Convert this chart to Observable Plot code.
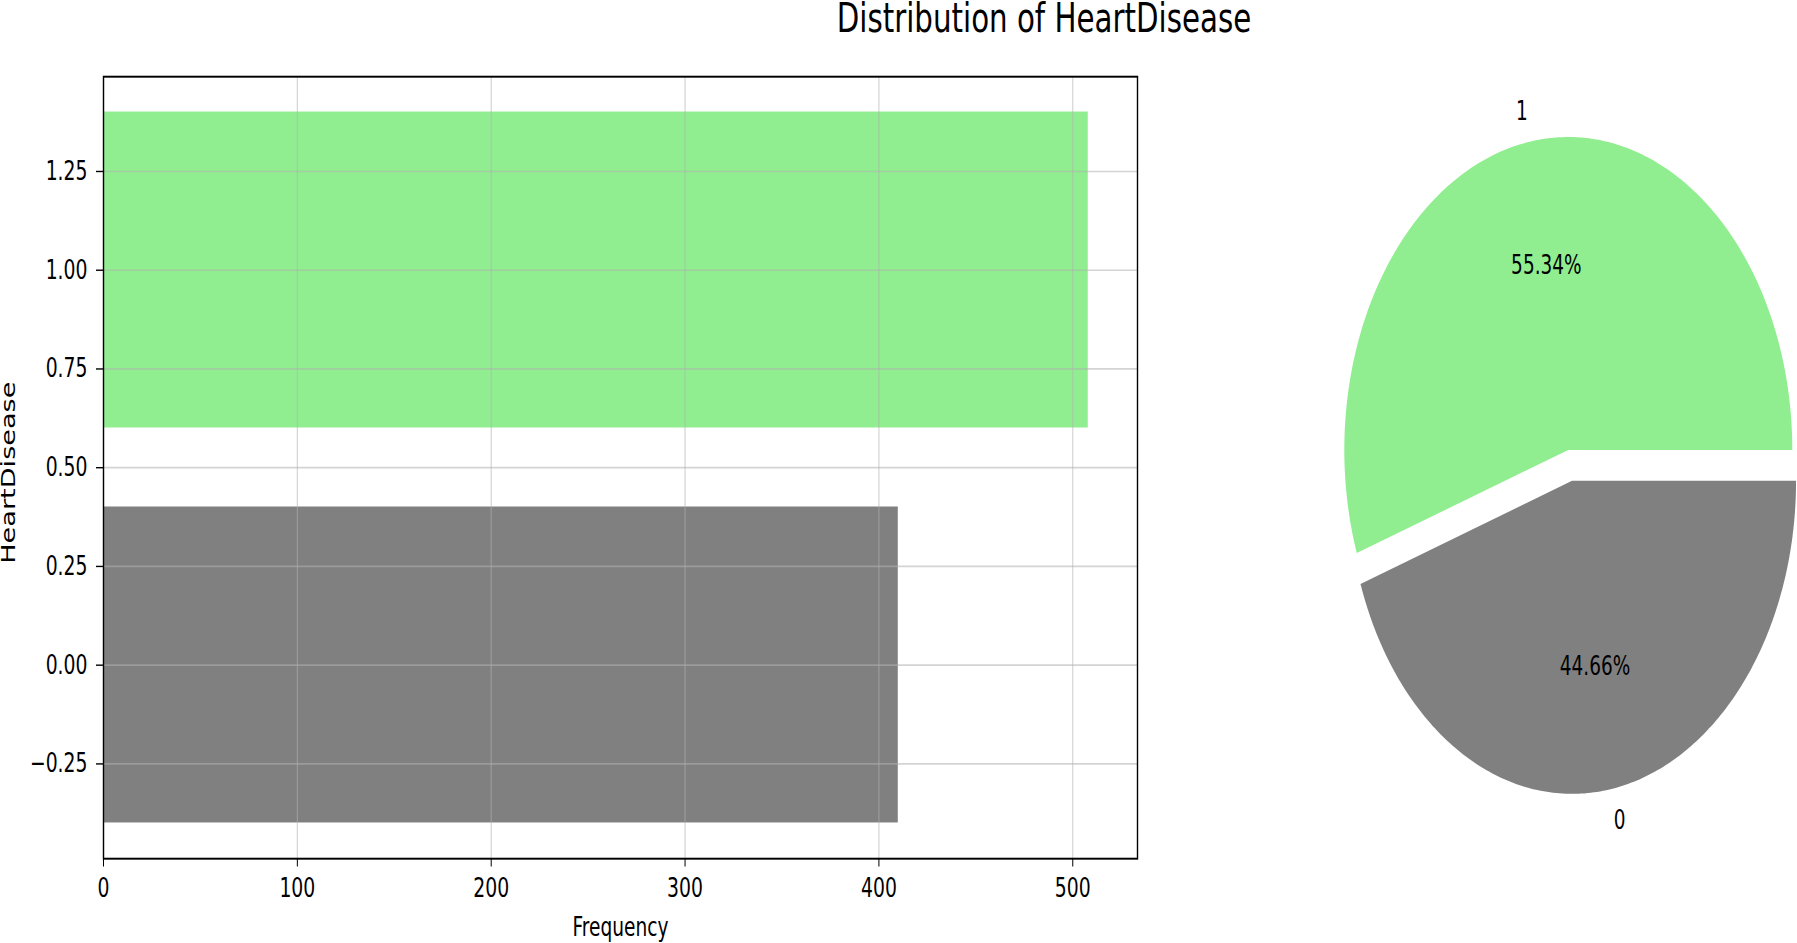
<!DOCTYPE html>
<html>
<head>
<meta charset="utf-8">
<script src="https://cdn.jsdelivr.net/npm/d3@7"></script>
<script src="https://cdn.jsdelivr.net/npm/@observablehq/plot@0.6"></script>
<style>
  html, body { margin: 0; padding: 0; background: #fff; }
  #fig { position: relative; width: 1797px; height: 943px; overflow: hidden; background: #fff; }
  #title {
    position: absolute; left: 1044px; top: 1px;
    font-family: "DejaVu Sans", sans-serif; font-size: 29.3px; line-height: 0.85;
    white-space: nowrap; color: #000;
    transform-origin: 0 0; transform: translateX(-50%) scale(1, 1.4);
  }
  .panel { position: absolute; top: 0; }
</style>
</head>
<body>
<div id="fig">
  <div id="title">Distribution of HeartDisease</div>
  <div id="bar" class="panel" style="left:0"></div>
  <div id="pie" class="panel" style="left:1180px"></div>
</div>
<script>
// ---- data ----
const categories = [0, 1];
const counts = [410, 508];
const barColors = ["gray", "lightgreen"];
const xTicks = [0, 100, 200, 300, 400, 500];
const yTicks = [-0.25, 0, 0.25, 0.5, 0.75, 1.0, 1.25];

const pieLabels = ["1", "0"];
const pieCounts = [508, 410];
const pieColors = ["lightgreen", "gray"];
const pieExplode = [0, 0.1];

// ---- layout helpers ----
const REAL_H = 943;
const NH = 674;             // native height (figure is stretched vertically)
const S = REAL_H / NH;

function stretch(svg, w) {
  svg.setAttribute("width", w);
  svg.setAttribute("height", REAL_H);
  svg.setAttribute("viewBox", `0 0 ${w} ${NH}`);
  svg.setAttribute("preserveAspectRatio", "none");
  svg.style.width = w + "px";
  svg.style.height = REAL_H + "px";
  svg.style.maxWidth = "none";
  svg.style.background = "transparent";
  return svg;
}

// ---- bar chart ----
const bars = categories.map((c, i) => ({cat: c, n: counts[i], color: barColors[i]}));
const frameTop = 76 / S, frameBottom = 858 / S;
const barPlot = Plot.plot({
  width: 1180,
  height: NH,
  marginTop: frameTop,
  marginBottom: NH - frameBottom,
  marginLeft: 103,
  marginRight: 43,
  style: {fontFamily: "DejaVu Sans", fontSize: "18.8px", color: "black", background: "transparent", overflow: "visible"},
  x: {domain: [0, 533.4]},
  y: {domain: [-0.49, 1.49]},
  color: {type: "identity"},
  marks: [
    Plot.rectX(bars, {x1: 0, x2: "n", y1: d => d.cat - 0.4, y2: d => d.cat + 0.4, fill: "color"}),
    Plot.gridX(xTicks, {stroke: "#b0b0b0", strokeOpacity: 0.55, strokeWidth: 1.2}),
    Plot.gridY(yTicks, {stroke: "#b0b0b0", strokeOpacity: 0.55, strokeWidth: 1.2}),
    Plot.frame({stroke: "black", strokeWidth: 1.4}),
    Plot.axisX(xTicks, {tickSize: 6, tickPadding: 8, tickFormat: d3.format("d"), label: null, stroke: "black"}),
    Plot.axisY(yTicks, {tickSize: 7, tickPadding: 9, tickFormat: d3.format(".2f"), label: null, stroke: "black"}),
    Plot.text(["Frequency"], {frameAnchor: "bottom", dy: 928 / S - frameBottom + 5, text: d => d, fontSize: 18.6}),
    Plot.text(["HeartDisease"], {frameAnchor: "left", textAnchor: "middle", rotate: -90, dx: 8.5 - 103, dy: 472 / S - (frameTop + frameBottom) / 2, text: d => d, fontSize: 19.4})
  ]
});
document.getElementById("bar").appendChild(stretch(barPlot, 1180));

// ---- pie chart ----
const total = d3.sum(pieCounts);
let acc = 0;
const wedges = pieCounts.map((v, i) => {
  const t1 = acc / total * 2 * Math.PI;
  acc += v;
  const t2 = acc / total * 2 * Math.PI;
  const tm = (t1 + t2) / 2;
  const cx = pieExplode[i] * Math.cos(tm), cy = pieExplode[i] * Math.sin(tm);
  return {label: pieLabels[i], color: pieColors[i], t1, t2, tm, cx, cy,
          pct: (v / total * 100).toFixed(2) + "%"};
});
const arcPts = [];
for (const w of wedges) {
  const N = 200;
  for (let k = 0; k <= N; ++k) {
    const a = w.t1 + (w.t2 - w.t1) * k / N;
    arcPts.push({label: w.label, color: w.color, x: w.cx + Math.cos(a), y: w.cy + Math.sin(a), cx: w.cx, cy: w.cy});
  }
}
const labelPos = wedges.map(w => ({text: w.label, x: w.cx + 1.1 * Math.cos(w.tm), y: w.cy + 1.1 * Math.sin(w.tm)}));
const pctPos = wedges.map(w => ({text: w.pct, x: w.cx + 0.6 * Math.cos(w.tm), y: w.cy + 0.6 * Math.sin(w.tm)}));

const PW = 1797 - 1180;
const pcx = 1568.3 - 1180, pcy = 450 / S;
const rx = 224, ry = 313 / S;
const piePlot = Plot.plot({
  width: PW,
  height: NH,
  margin: 0,
  style: {fontFamily: "DejaVu Sans", fontSize: "18.5px", color: "black", background: "transparent", overflow: "visible"},
  x: {domain: [-1, 1], range: [pcx - rx, pcx + rx], axis: null},
  y: {domain: [-1, 1], range: [pcy + ry, pcy - ry], axis: null},
  color: {type: "identity"},
  marks: [
    Plot.area(arcPts, {x1: "x", y1: "y", x2: "cx", y2: "cy", z: "label", fill: "color"}),
    Plot.text(labelPos.filter(d => d.x > 0), {x: "x", y: "y", text: "text", textAnchor: "start"}),
    Plot.text(labelPos.filter(d => d.x <= 0), {x: "x", y: "y", text: "text", textAnchor: "end"}),
    Plot.text(pctPos, {x: "x", y: "y", text: "text"})
  ]
});
document.getElementById("pie").appendChild(stretch(piePlot, PW));
</script>
</body>
</html>
